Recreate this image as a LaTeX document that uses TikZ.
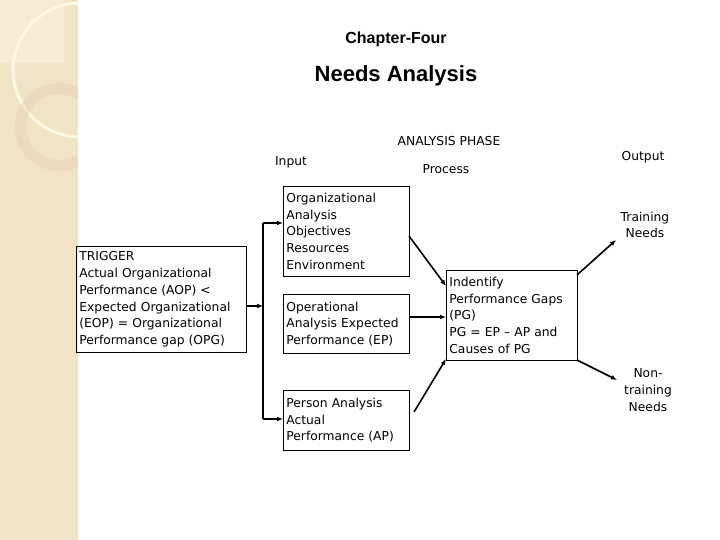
\documentclass[tikz,border=0pt]{standalone}
\usepackage{fontspec}
\setmainfont{DejaVu Sans}
\newfontfamily\arialf{Liberation Sans}
\usetikzlibrary{arrows.meta}
\begin{document}
\begin{tikzpicture}[x=1pt,y=-1pt,
  box/.style={draw,line width=0.8pt,anchor=north west,align=left,inner xsep=3pt,inner ysep=3pt,font=\fontsize{12.3}{16.7}\selectfont},
  lbl/.style={font=\fontsize{12.3}{16.7}\selectfont,align=center},
  arr/.style={line width=1.6pt,-{Latex[length=6pt,width=5pt]}}]
\useasboundingbox (0,0) rectangle (720,540);
\fill[white] (0,0) rectangle (720,540);
\definecolor{strip}{RGB}{240,228,196}
\definecolor{ringc}{RGB}{253,248,225}
\begin{scope}
\clip (0,0) rectangle (78,540);
\fill[strip] (0,0) rectangle (78,540);
\fill[white,opacity=0.3] (0,0) rectangle (64,63);
\draw[ringc,line width=3pt] (80,70) circle (67);
\draw[brown!35!white,opacity=0.5,line width=11pt] (59,127) circle (38.5);
\end{scope}
\node[font=\arialf\bfseries\fontsize{16}{18}\selectfont] (t1) at (396,39) {Chapter-Four};
\node[font=\arialf\bfseries\fontsize{22}{24}\selectfont] (t2) at (396,76) {Needs Analysis};
\node[lbl] (ap) at (449,141) {ANALYSIS PHASE};
\node[lbl] (in) at (291,162) {Input};
\node[lbl] (pr) at (446,169) {Process};
\node[lbl] (out) at (643,157) {Output};
\node[box,text width=164,minimum height=106] (trig) at (76,246) {TRIGGER\\Actual Organizational\\Performance (AOP) <\\Expected Organizational\\(EOP) = Organizational\\Performance gap (OPG)};
\node[box,text width=120,minimum height=90] (org) at (283,186) {Organizational\\Analysis\\Objectives\\Resources\\Environment};
\node[box,text width=120,minimum height=59] (op) at (283,294) {Operational\\Analysis Expected\\Performance (EP)};
\node[box,text width=120,minimum height=60] (per) at (283,390) {Person Analysis\\Actual\\Performance (AP)};
\node[box,text width=125,minimum height=90] (proc) at (446,270) {Indentify\\Performance Gaps\\(PG)\\PG = EP -- AP and\\Causes of PG};
\node[lbl] (tn) at (645,225) {Training\\Needs};
\node[lbl] (ntn) at (648,390) {Non-\\training\\Needs};
\coordinate (j) at (263,306);
\coordinate (jt) at (263,223);
\coordinate (jb) at (263,419);
\draw[arr] (trig.east |- j) -- (j);
\draw[line width=1.6pt] (jt) -- (jb);
\draw[arr] (jt) -- (org.west |- jt);
\draw[arr] (jb) -- (per.west |- jb);
\draw[arr] (409,236) -- (446,286);
\draw[arr] (op.east |- 0,317) -- (proc.west |- 0,317);
\draw[arr] (414,412) -- (446,359);
\draw[arr] (577,275) -- (616,240);
\draw[arr] (577,360) -- (617,380);
\end{tikzpicture}
\end{document}
